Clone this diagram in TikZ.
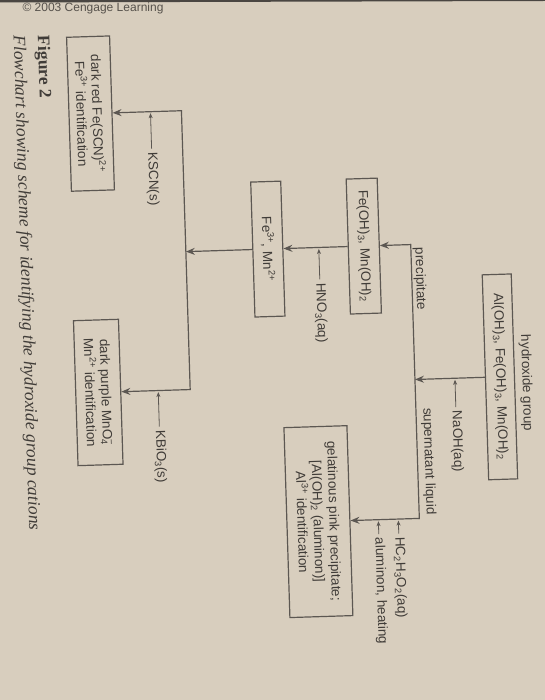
\documentclass[tikz,border=0pt]{standalone}
\usepackage{fontspec}
\newfontfamily\hel{Liberation Sans}
\newfontfamily\capserif{Liberation Serif}
\usetikzlibrary{arrows.meta}
\definecolor{paper}{RGB}{216,206,190}
\definecolor{ink}{RGB}{64,60,56}
\definecolor{rule}{RGB}{92,87,82}

\begin{document}
\begin{tikzpicture}[x=1pt, y=1pt,
  box/.style={draw=rule, line width=1.2pt, text=ink, align=center, inner sep=2pt,
    font=\hel\fontsize{13.5}{16}\selectfont},
  lab/.style={text=ink, font=\hel\fontsize{13.5}{16}\selectfont},
  main/.style={draw=rule, line width=1.2pt, -{Stealth[length=9pt,width=7pt,inset=3pt]}},
  reag/.style={draw=rule, line width=0.8pt, -{Stealth[length=5pt,width=4pt,inset=1.5pt]}},
  bar/.style={draw=rule, line width=1.2pt, line cap=rect}]

  \fill[paper] (0,0) rectangle (545,-700);
  \useasboundingbox (0,0) rectangle (545,-700);
  \fill[rule!80!black] (0,0) -- (545,0) -- (545,-1) -- (0,-2.5) -- cycle;
  \node[text=ink!85!paper, font=\hel\fontsize{12}{14}\selectfont] (copy) at (93,-8) {© 2003 Cengage Learning};

  \begin{scope}[rotate around={1.8:(272,-350)}]
  \begin{scope}[rotate=-90, transform shape]
    % top of the scheme
    \node[lab] (hdr) at (391,525) {hydroxide group};
    \node[box, minimum width=205pt, minimum height=29pt] (topbox) at (384,499)
      {Al(OH)\textsubscript{3}, Fe(OH)\textsubscript{3}, Mn(OH)\textsubscript{2}};
    \coordinate (split1) at (384,414);
    \coordinate (pl) at (249,414);
    \coordinate (sl) at (523,414);
    \draw[main] (topbox) -- (split1);
    \draw[bar] (pl) -- (sl);
      \node[lab, anchor=west] (prec) at (249,422) {precipitate};
      \node[lab, anchor=east] (sup) at (523,425) {supernatant liquid};

    \node[lab, anchor=west] (naoh) at (413,454) {NaOH(aq)};
    \coordinate (naohtip) at (385.5,454);
    \draw[reag] (naoh) -- (naohtip);

    % precipitate branch
    \node[box, minimum width=135pt, minimum height=31pt] (feoh) at (249,367)
      {Fe(OH)\textsubscript{3}, Mn(OH)\textsubscript{2}};
    \draw[main] (pl) -- (feoh);

    \node[lab, anchor=west] (hno) at (281,322) {HNO\textsubscript{3}(aq)};
    \coordinate (hnotip) at (250.5,322);
    \draw[reag] (hno) -- (hnotip);

    \node[box, minimum width=135pt, minimum height=30pt] (femn) at (249,271)
      {Fe\textsuperscript{3+}, Mn\textsuperscript{2+}};
    \draw[main] (feoh) -- (femn);

    \coordinate (split2) at (249,189);
    \coordinate (kl) at (108,189);
    \coordinate (kr) at (387,189);
    \draw[main] (femn) -- (split2);
    \draw[bar] (kl) -- (kr);

    \node[box, minimum width=154pt, minimum height=43pt] (fescn) at (108,98)
      {dark red Fe(SCN)\textsuperscript{2+}\\Fe\textsuperscript{3+} identification};
    \node[box, minimum width=145pt, minimum height=45pt] (mnid) at (387,97)
      {dark purple MnO\rlap{\textsubscript{4}}\textsuperscript{−}\\Mn\textsuperscript{2+} identification};
    \draw[main] (kl) -- (fescn);
    \draw[main] (kr) -- (mnid);

    \node[lab, anchor=west] (kscn) at (145,158) {KSCN(s)};
    \coordinate (kscntip) at (109.5,158);
    \draw[reag] (kscn) -- (kscntip);

    \node[lab, anchor=west] (kbio) at (423,157) {KBiO\textsubscript{3}(s)};
    \coordinate (kbiotip) at (388.5,157);
    \draw[reag] (kbio) -- (kbiotip);

    % supernatant branch
    \node[box, minimum width=190pt, minimum height=63pt] (gel) at (523,313)
      {gelatinous pink precipitate;\\{[}Al(OH)\textsubscript{2} (aluminon){]}\\Al\textsuperscript{3+} identification};
    \draw[main] (sl) -- (gel);

    \node[lab, anchor=west] (acid) at (537.5,393) {HC\textsubscript{2}H\textsubscript{3}O\textsubscript{2}(aq)};
    \coordinate (acidtip) at (524.5,393);
    \draw[reag] (acid) -- (acidtip);
    \node[lab, anchor=west] (alum) at (537.5,373) {aluminon, heating};
    \coordinate (alumtip) at (524.5,373);
    \draw[reag] (alum) -- (alumtip);

    % caption
    \node[anchor=west, text=ink, font=\capserif\fontsize{17.5}{20}\selectfont\bfseries] (fig) at (25,52) {Figure 2};
    \node[anchor=west, text=ink, font=\capserif\fontsize{17.5}{20}\selectfont\itshape] (cap) at (24,28)
      {Flowchart showing scheme for identifying the hydroxide group cations};
  \end{scope}
  \end{scope}
\end{tikzpicture}
\end{document}
